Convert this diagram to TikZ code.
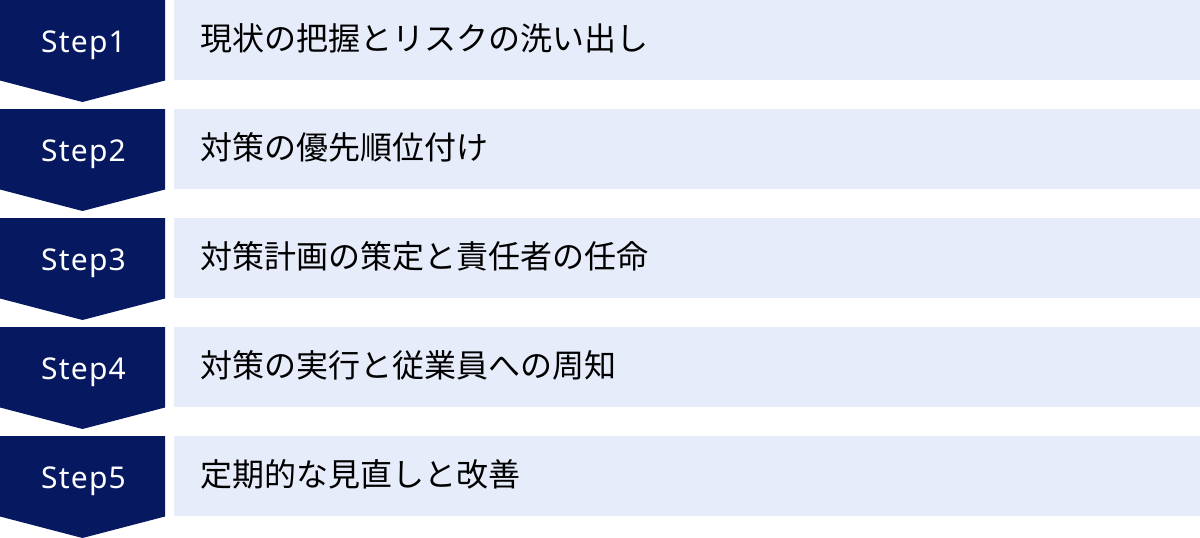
\documentclass[tikz,border=0pt]{standalone}
\usepackage{fontspec}
\setmainfont{Noto Sans CJK JP}
\newfontfamily\stepfont[LetterSpace=4]{Noto Sans}
\definecolor{navy}{RGB}{6,24,96}
\definecolor{pale}{RGB}{230,236,249}
\tikzset{
  stepshape/.style={fill=navy,draw=none},
  barbox/.style={fill=pale,draw=none},
  steplabel/.style={text=white,font=\stepfont\fontsize{30}{32}\selectfont,inner sep=0pt,anchor=base},
  bartext/.style={text=black,font=\fontsize{32}{34}\selectfont,inner sep=0pt,anchor=base west}
}
\begin{document}
\begin{tikzpicture}[x=1pt,y=-1pt]
\useasboundingbox (0,0) rectangle (1200,538);
\foreach \i/\t in {1/現状の把握とリスクの洗い出し,2/対策の優先順位付け,3/対策計画の策定と責任者の任命,4/対策の実行と従業員への周知,5/定期的な見直しと改善}{
  \pgfmathsetmacro{\top}{(\i-1)*109}
  \fill[stepshape] (0,\top) -- (165,\top) -- (165,\top+80.5) -- (82.5,\top+102) -- (0,\top+80.5) -- cycle;
  \fill[barbox] (174,\top) rectangle (1200,\top+80);
  \node[steplabel] (s\i) at (83.5,\top+52.5) {Step\i};
  \node[bartext] (t\i) at (200.5,\top+50.5) {\t};
}
\end{tikzpicture}
\end{document}
